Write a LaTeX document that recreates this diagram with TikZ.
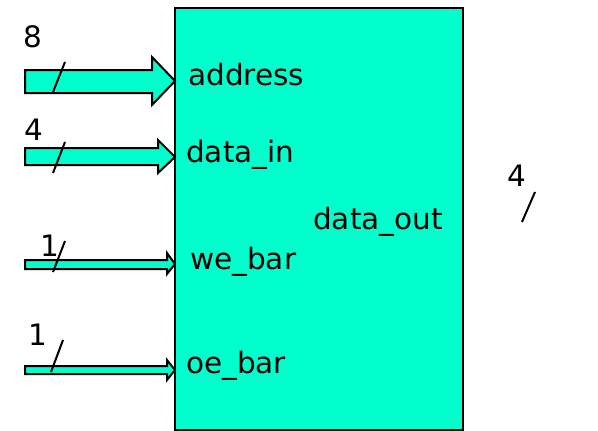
\documentclass[tikz,border=0pt]{standalone}
\usepackage{fontspec}
\setmainfont{DejaVu Sans}
\definecolor{aqua}{RGB}{0,255,204}
\tikzset{
  blk/.style={draw=black, line width=2pt, fill=aqua},
  busarrow/.style={draw=black, line width=2pt, fill=aqua, line join=miter},
  slashmark/.style={draw=black, line width=2pt},
  lbl/.style={inner sep=0pt, anchor=base west, font=\fontsize{29.5}{34}\selectfont},
  num/.style={inner sep=0pt, anchor=base, font=\fontsize{29.5}{34}\selectfont},
}
\begin{document}
\begin{tikzpicture}[x=1pt,y=-1pt]
\useasboundingbox (0,0) rectangle (598,431);
% main block
\draw[blk] (175,8) rectangle (463,430);
\coordinate (blkW) at (175,8);
% bus arrows
\draw[busarrow] (25,70) -- (152,70) -- (152,57) -- (175,81) -- (152,105) -- (152,93) -- (25,93) -- cycle;
\draw[busarrow] (25,148) -- (158,148) -- (158,140) -- (175,157) -- (158,173) -- (158,165) -- (25,165) -- cycle;
\draw[busarrow] (25,260) -- (167,260) -- (167,253) -- (175,264) -- (167,274) -- (167,269) -- (25,269) -- cycle;
\draw[busarrow] (25,366) -- (167,366) -- (167,360) -- (175,370) -- (167,380) -- (167,374) -- (25,374) -- cycle;
% slashes
\coordinate (s1a) at (53,92); \coordinate (s1b) at (65,62);
\coordinate (s2a) at (53,173); \coordinate (s2b) at (65,142);
\coordinate (s3a) at (53,272); \coordinate (s3b) at (65,241);
\coordinate (s4a) at (51,372); \coordinate (s4b) at (63,340);
\coordinate (s5a) at (522,222); \coordinate (s5b) at (535,192);
\draw[slashmark] (s1a) -- (s1b);
\draw[slashmark] (s2a) -- (s2b);
\draw[slashmark] (s3a) -- (s3b);
\draw[slashmark] (s4a) -- (s4b);
\draw[slashmark] (s5a) -- (s5b);
% width labels
\node[num] (n8) at (32.5,47) {8};
\node[num] (n4) at (34,140) {4};
\node[num] (n1a) at (49.5,256) {1};
\node[num] (n1b) at (37.5,345) {1};
\node[num] (n4o) at (516.5,186) {4};
% port labels
\node[lbl] (address) at (188,85) {address};
\node[lbl] (datain) at (186,162) {data\_in};
\node[lbl] (webar) at (190,269) {we\_bar};
\node[lbl] (oebar) at (186,373) {oe\_bar};
\node[lbl] (dataout) at (313,229) {data\_out};
\end{tikzpicture}
\end{document}
